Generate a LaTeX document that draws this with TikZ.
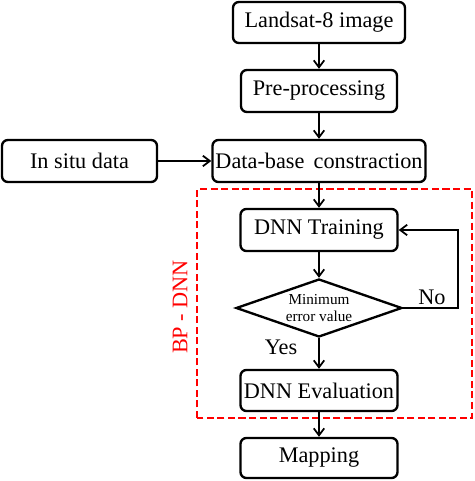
\documentclass[tikz,border=0pt]{standalone}
\usepackage{fontspec}
\setmainfont{Liberation Serif}
\usepackage{tikz}
\usetikzlibrary{calc, arrows.meta, shapes.geometric}

\begin{document}
\begin{tikzpicture}[>={Straight Barb[length=6pt,width=9pt]},
  box/.style={draw, line width=2pt, rounded corners=5pt, inner sep=0pt,
    font=\fontsize{19}{22}\selectfont},
  decision/.style={draw, diamond, aspect=2.9, line width=2pt, inner sep=0pt,
    minimum width=4.98cm, minimum height=1.74cm,
    font=\fontsize{13}{15}\selectfont, align=center},
  arr/.style={line width=1.5pt, ->}]
\useasboundingbox (0,0) rectangle (14.22,14.43);

\node[box, minimum width=5.16cm, minimum height=1.23cm] (land) at (9.57,13.755) {Landsat-8 image};
\node[box, minimum width=4.68cm, minimum height=1.26cm] (pre) at (9.57,11.70) {Pre-processing};
\node[box, minimum width=4.65cm, minimum height=1.26cm] (situ) at (2.385,9.60) {In situ data};
\node[box, minimum width=6.39cm, minimum height=1.26cm] (base) at (9.57,9.60) {Data-base\, constraction};
\node[box, minimum width=4.71cm, minimum height=1.26cm] (train) at (9.57,7.53) {DNN Training};
\node[decision] (check) at (9.57,5.19) {Minimum\\error value};
\node[box, minimum width=4.71cm, minimum height=1.23cm] (eval) at (9.57,2.715) {DNN Evaluation};
\node[box, minimum width=4.71cm, minimum height=1.20cm] (map) at (9.57,0.69) {Mapping};

% BP-DNN frame
\draw[red, line width=1.4pt, dash pattern=on 6pt off 3pt] (5.91,1.89) rectangle (14.16,8.76);
\node[red, rotate=90, font=\fontsize{19}{22}\selectfont] (bp) at (5.4,5.22) {BP - DNN};

\draw[arr] (land) -- (pre);
\draw[arr] (pre) -- (base);
\draw[arr] (situ) -- (base);
\draw[arr] (base) -- (train);
\draw[arr] (train) -- (check);
\draw[arr] (check) -- (eval);
\draw[arr] (eval) -- (map);

\coordinate (loop) at (13.74,0);
\draw[arr] (check.east) -- (check.east -| loop) -- (train.east -| loop) -- (train.east);

\node[font=\fontsize{19}{22}\selectfont] (no) at (12.96,5.52) {No};
\node[font=\fontsize{19}{22}\selectfont] (yes) at (8.43,4.02) {Yes};
\end{tikzpicture}
\end{document}
